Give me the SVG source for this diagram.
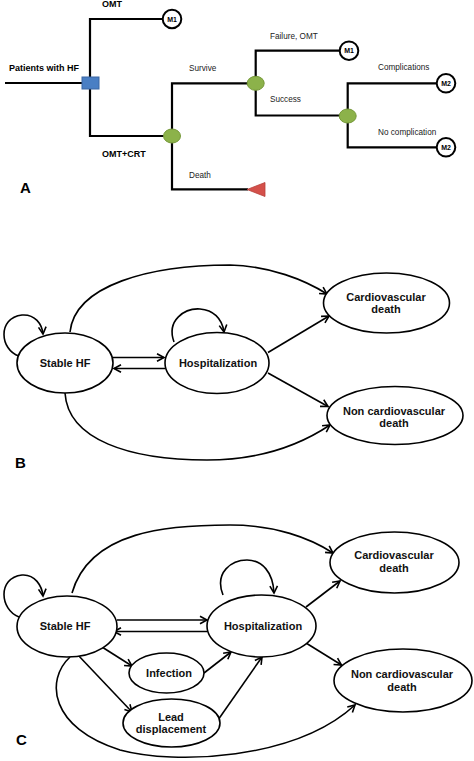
<svg xmlns="http://www.w3.org/2000/svg" width="474" height="761" viewBox="0 0 474 761">
<defs>
<style>
.bg{fill:#fff}
.tree{fill:none;stroke:#000;stroke-width:2.2}
.ln{fill:none;stroke:#000;stroke-width:1.6}
.ell{fill:#fff;stroke:#000;stroke-width:1.6}
.term{fill:#fff;stroke:#000;stroke-width:2}
.mt{font-family:"Liberation Sans",Arial,sans-serif;font-weight:bold;font-size:7px;text-anchor:middle}
.lab{font-family:"Liberation Sans",Arial,sans-serif;font-size:8.2px;fill:#222}
.blab{font-family:"Liberation Sans",Arial,sans-serif;font-size:9px;font-weight:bold}
.nt{font-family:"Liberation Sans",Arial,sans-serif;font-size:11px;font-weight:bold;text-anchor:middle;fill:#111}
.pl{font-family:"Liberation Sans",Arial,sans-serif;font-size:15px;font-weight:bold}
.chance{fill:#8cb24a;stroke:#76993a;stroke-width:1}
</style>
<marker id="arr" viewBox="-8 -5 10 10" refX="0" refY="0" markerWidth="10" markerHeight="10" markerUnits="userSpaceOnUse" orient="auto">
<path d="M-7,-3.8 L0,0 L-7,3.8" fill="none" stroke="#000" stroke-width="1.6"/>
</marker>
</defs>
<rect class="bg" x="0" y="0" width="474" height="761"/>

<!-- Panel A -->
<g id="treeA-connectors">
<path class="tree" d="M5 83 H82"/>
<path class="tree" d="M162 19 H90 V136 H164"/>
<path class="tree" d="M248 83.3 H172 V189.3 H248"/>
<path class="tree" d="M340 50.7 H255.7 V115.5 H340"/>
<path class="tree" d="M437 83.3 H347.7 V147.3 H437"/>
</g>
<g id="treeA-labels">
<text class="blab" x="102" y="7">OMT</text>
<text class="blab" x="9" y="71">Patients with HF</text>
<text class="blab" x="102" y="157">OMT+CRT</text>
<text class="lab" x="189" y="71">Survive</text>
<text class="lab" x="189" y="178">Death</text>
<text class="lab" x="270" y="39">Failure, OMT</text>
<text class="lab" x="270" y="102">Success</text>
<text class="lab" x="378" y="70">Complications</text>
<text class="lab" x="378" y="135">No complication</text>
<text class="pl" x="20" y="193">A</text>
</g>
<g id="decision"><rect x="82" y="77" width="17" height="12" fill="#4a7fc4" stroke="#3a67a3" stroke-width="1"/></g>
<g id="chance1"><ellipse class="chance" cx="172" cy="136" rx="8.5" ry="7"/></g>
<g id="chance2"><ellipse class="chance" cx="255.7" cy="83.3" rx="8.5" ry="7"/></g>
<g id="chance3"><ellipse class="chance" cx="347.7" cy="116" rx="8.5" ry="7"/></g>
<g id="m1a"><circle class="term" cx="172" cy="19" r="9.3"/><text class="mt" x="172" y="21.5">M1</text></g>
<g id="m1b"><circle class="term" cx="349" cy="50.7" r="9.3"/><text class="mt" x="349" y="53.2">M1</text></g>
<g id="m2a"><circle class="term" cx="446" cy="83.3" r="9.3"/><text class="mt" x="446" y="85.8">M2</text></g>
<g id="m2b"><circle class="term" cx="446" cy="147.3" r="9.3"/><text class="mt" x="446" y="149.8">M2</text></g>
<g id="deathA"><polygon points="247,189.5 265,182.5 265,196.5" fill="#d4504a" stroke="#b8403a" stroke-width="0.8"/></g>

<!-- Panel B -->
<g id="connectorsB">
<path class="ln" marker-end="url(#arr)" d="M19 356 C0 350,-3 318,22 315 C35 314,42 324,43 334"/>
<path class="ln" marker-end="url(#arr)" d="M174 342 C166 320,185 308,200 309 C213 310,222 318,224 332"/>
<path class="ln" marker-end="url(#arr)" d="M113 357.5 L164 357.5"/>
<path class="ln" marker-end="url(#arr)" d="M165 368.5 L114 368.5"/>
<path class="ln" marker-end="url(#arr)" d="M70 332 C75 285,150 265,230 265 C270 266,305 280,327 294"/>
<path class="ln" marker-end="url(#arr)" d="M268 352.5 L329 316"/>
<path class="ln" marker-end="url(#arr)" d="M268 373 L328 406.5"/>
<path class="ln" marker-end="url(#arr)" d="M65 393 C68 440,130 460,207 460 C260 460,300 445,330 425"/>
</g>
<g id="stableB"><ellipse class="ell" cx="65" cy="363" rx="48" ry="30"/><text class="nt" x="65" y="367">Stable HF</text></g>
<g id="hospB"><ellipse class="ell" cx="217" cy="363" rx="52" ry="30.5"/><text class="nt" x="218" y="367">Hospitalization</text></g>
<g id="cvB"><ellipse class="ell" cx="386.5" cy="303" rx="63" ry="30"/><text class="nt" x="386" y="300.5">Cardiovascular</text><text class="nt" x="386" y="312.5">death</text></g>
<g id="ncvB"><ellipse class="ell" cx="395" cy="415.5" rx="68" ry="29"/><text class="nt" x="394" y="415">Non cardiovascular</text><text class="nt" x="394" y="427">death</text></g>
<text class="pl" x="15" y="468">B</text>

<!-- Panel C -->
<g id="connectorsC">
<path class="ln" marker-end="url(#arr)" d="M19 617 C0 610,-3 578,22 575 C35 574,42 586,43 596"/>
<path class="ln" marker-end="url(#arr)" d="M223 595 C214 572,232 560,247 560 C262 560,273 572,274 593"/>
<path class="ln" marker-end="url(#arr)" d="M117 620 L207 620"/>
<path class="ln" marker-end="url(#arr)" d="M207 631.5 L114 631.5"/>
<path class="ln" marker-end="url(#arr)" d="M72 593 C90 530,170 525,230 525 C275 525,310 538,333 553"/>
<path class="ln" marker-end="url(#arr)" d="M306 607 L340 581"/>
<path class="ln" marker-end="url(#arr)" d="M306 643 L341.5 665"/>
<path class="ln" marker-end="url(#arr)" d="M102 647 L132 666"/>
<path class="ln" marker-end="url(#arr)" d="M77 654 L132 712"/>
<path class="ln" marker-end="url(#arr)" d="M204 673 L231 652"/>
<path class="ln" marker-end="url(#arr)" d="M218 720 L262 657"/>
<path class="ln" marker-end="url(#arr)" d="M70 657 C45 680,50 728,120 750 C175 765,295 760,355 705"/>
</g>
<g id="stableC"><ellipse class="ell" cx="67" cy="626.5" rx="50" ry="30.5"/><text class="nt" x="65" y="630">Stable HF</text></g>
<g id="hospC"><ellipse class="ell" cx="261.5" cy="626" rx="54.5" ry="31"/><text class="nt" x="263" y="630">Hospitalization</text></g>
<g id="cvC"><ellipse class="ell" cx="394.5" cy="562.5" rx="64.5" ry="30.5"/><text class="nt" x="394" y="559">Cardiovascular</text><text class="nt" x="394" y="572">death</text></g>
<g id="ncvC"><ellipse class="ell" cx="403" cy="680.5" rx="69" ry="31.5"/><text class="nt" x="402" y="678">Non cardiovascular</text><text class="nt" x="402" y="691">death</text></g>
<g id="infection"><ellipse class="ell" cx="166.5" cy="673" rx="37.5" ry="20"/><text class="nt" x="169" y="677">Infection</text></g>
<g id="lead"><ellipse class="ell" cx="171.5" cy="723" rx="48.5" ry="24"/><text class="nt" x="171" y="720.5">Lead</text><text class="nt" x="171" y="732.5">displacement</text></g>
<text class="pl" x="16" y="745">C</text>
</svg>
